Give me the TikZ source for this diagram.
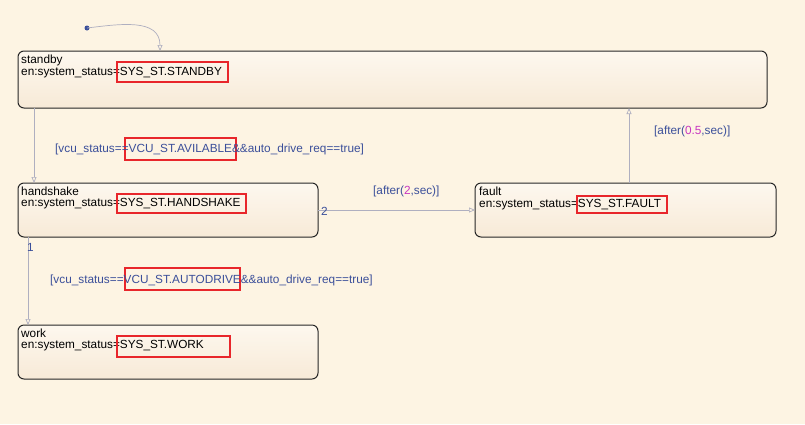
\documentclass[tikz,border=0pt]{standalone}
\usepackage{fontspec}
\setmainfont{Liberation Sans}
\usetikzlibrary{arrows.meta}
\definecolor{bg}{HTML}{FDF4E3}
\definecolor{boxfill}{HTML}{FCF3E4}
\definecolor{lbl}{HTML}{3B4F9A}
\definecolor{num}{HTML}{C736C0}
\definecolor{conn}{HTML}{AFAFC0}
\definecolor{hl}{HTML}{E8262B}
\tikzset{
  state/.style={draw=black!85, line width=1pt, rounded corners=6pt, top color=white!40!boxfill, bottom color=boxfill!92!brown},
  txt/.style={anchor=west, inner sep=0pt, font=\fontsize{11.8}{13}\selectfont},
  lab/.style={txt, text=lbl},
  trans/.style={draw=conn, line width=0.7pt, -{Triangle[open, length=6pt, width=5pt]}},
  hlbox/.style={draw=hl, line width=1.5pt}
}
\begin{document}
\begin{tikzpicture}[x=1pt,y=-1pt]
\fill[bg] (0,0) rectangle (805,424);
\useasboundingbox (0,0) rectangle (805,424);
% states
\draw[state] (18,51) rectangle (767,108);
\draw[state] (18,183) rectangle (318,237);
\draw[state] (475,183) rectangle (776,237);
\draw[state] (18,325) rectangle (318,379);
\coordinate (sbtop) at (160,51);
\coordinate (sbbot) at (34,108);
\coordinate (hstop) at (34,183);
\coordinate (hsright) at (318,210);
\coordinate (hsbot) at (28,237);
\coordinate (fleft) at (475,210);
\coordinate (ftop) at (629,183);
\coordinate (sbfault) at (629,108);
\coordinate (wtop) at (28,325);
% texts
\node[txt] (t1) at (21,60) {standby};
\node[txt] (t2) at (21,73) {en:system\_status=SYS\_ST.STANDBY};
\node[txt] (t3) at (21,191) {handshake};
\node[txt] (t4) at (21,204) {en:system\_status=SYS\_ST.HANDSHAKE};
\node[txt] (t5) at (479,191) {fault};
\node[txt] (t6) at (479,205) {en:system\_status=SYS\_ST.FAULT};
\node[txt] (t7) at (21,333) {work};
\node[txt] (t8) at (21,346) {en:system\_status=SYS\_ST.WORK};
% highlight boxes
\draw[hlbox] (117,62) rectangle (228,82);
\draw[hlbox] (117,194) rectangle (246,213);
\draw[hlbox] (125,138) rectangle (236,160);
\draw[hlbox] (577,196) rectangle (667,213);
\draw[hlbox] (125,268) rectangle (240,290);
\draw[hlbox] (117,336) rectangle (230,357);
% initial
\fill[lbl] (87,28) circle (2.5pt) coordinate (init);
\draw[trans] (init) .. controls (120,24) and (160,18) .. (sbtop);
% transitions
\draw[trans] (sbbot) -- (hstop);
\draw[trans] (hsright) -- (fleft);
\draw[trans] (ftop) -- (sbfault);
\draw[trans] (hsbot) -- (wtop);
% labels
\node[lab] (l1) at (55,149) {[vcu\_status==VCU\_ST.AVILABLE\&\&auto\_drive\_req==true]};
\node[lab] (l2) at (373,191) {[after(\textcolor{num}{2},sec)]};
\node[lab] (l3) at (321,211) {2};
\node[lab] (l4) at (654,131) {[after(\textcolor{num}{0.5},sec)]};
\node[lab] (l5) at (27,247) {1};
\node[lab] (l6) at (50,280) {[vcu\_status==VCU\_ST.AUTODRIVE\&\&auto\_drive\_req==true]};
\end{tikzpicture}
\end{document}
